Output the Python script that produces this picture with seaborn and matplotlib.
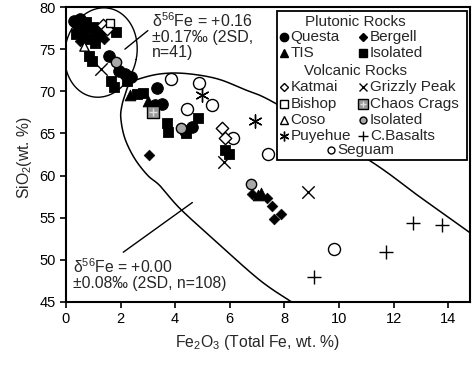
import matplotlib
matplotlib.use("Agg")
import matplotlib.pyplot as plt
import seaborn as sns
import pandas as pd
import numpy as np

# ---- data (Fe2O3 total, SiO2) ----
questa_x = [0.29, 0.51, 0.69, 1.17, 1.57, 1.94, 2.16, 2.38, 3.25, 3.51, 3.33, 4.35, 4.61]
questa_y = [78.3, 78.6, 77.4, 76.6, 74.2, 72.4, 72.0, 71.7, 68.4, 68.5, 70.4, 65.3, 65.8]
bergell_x = [0.58, 1.39, 0.51, 3.03, 6.83, 7.35, 7.53, 7.86, 7.60]
bergell_y = [77.0, 76.2, 76.0, 62.4, 57.8, 57.3, 56.4, 55.4, 54.8]
tis_x = [0.95, 2.34, 3.00, 7.02, 7.16]
tis_y = [76.8, 69.5, 68.9, 57.7, 57.9]
plut_iso_x = [0.44, 0.73, 0.99, 1.24, 0.37, 0.77, 1.06, 1.83, 0.84, 0.95, 1.64, 1.75, 2.23,
              2.60, 2.81, 3.69, 3.73, 4.39, 4.82, 5.81, 5.96]
plut_iso_y = [77.75, 78.2, 77.6, 77.2, 76.8, 76.2, 75.7, 77.0, 74.2, 73.6, 71.25, 70.5, 71.25,
              69.7, 69.8, 66.2, 65.2, 65.0, 66.8, 63.0, 62.5]
katmai_x = [1.35, 1.50, 5.70, 5.81]
katmai_y = [77.9, 77.4, 65.7, 64.5]
bishop_x = [1.60]
bishop_y = [78.1]
coso_x = [0.66]
coso_y = [75.4]
puyehue_x = [4.97, 6.94]
puyehue_y = [69.5, 66.5]
grizzly_x = [1.28, 5.77, 8.88]
grizzly_y = [72.7, 61.6, 58.0]
chaos_x = [3.18]
chaos_y = [67.5]
volc_iso_x = [1.83, 4.20, 6.76]
volc_iso_y = [73.5, 65.7, 59.0]
cbasalt_x = [12.72, 13.78, 11.70, 9.10]
cbasalt_y = [54.35, 54.1, 50.9, 48.0]
seguam_x = [3.84, 4.86, 5.34, 4.42, 6.10, 7.38, 9.83]
seguam_y = [71.5, 71.0, 68.4, 67.9, 64.5, 62.5, 51.3]

# outline of the volcanic field (control points)
field_x = [8.26, 7.09, 5.45, 4.17, 3.44, 3.00, 2.52, 2.16, 2.01, 2.05, 2.16, 2.34, 2.81,
           3.55, 4.42, 5.52, 6.47, 7.71, 11.11, 12.94, 14.80, 15.3]
field_y = [45.0, 47.6, 52.3, 56.1, 58.8, 60.0, 62.0, 64.4, 66.8, 68.3, 69.5, 70.9, 71.6,
           72.1, 72.1, 71.5, 70.3, 68.5, 61.8, 57.5, 53.2, 52.0]

sns.set_style("ticks")
plt.rcParams["font.family"] = ["Liberation Sans", "DejaVu Sans"]
plt.rcParams["mathtext.fontset"] = "custom"
plt.rcParams["mathtext.rm"] = "Liberation Sans"
plt.rcParams["mathtext.it"] = "Liberation Sans"

fig, ax = plt.subplots(figsize=(4.74, 3.70), dpi=100)
fig.subplots_adjust(left=0.139, right=0.992, bottom=0.184, top=0.981)
ax.set_xlim(0, 14.8)
ax.set_ylim(45, 80)


def pts(x, y):
    return pd.DataFrame({"x": x, "y": y})


def catmull(p, n=25):
    P = np.vstack([p[0], p, p[-1]])
    out = []
    t = np.linspace(0, 1, n)[:, None]
    for i in range(1, len(P) - 2):
        p0, p1, p2, p3 = P[i - 1], P[i], P[i + 1], P[i + 2]
        out.append(0.5 * (2 * p1 + (-p0 + p2) * t + (2 * p0 - 5 * p1 + 4 * p2 - p3) * t ** 2
                          + (-p0 + 3 * p1 - 3 * p2 + p3) * t ** 3))
    return np.vstack(out)


# field outline, smoothed in display space
disp = ax.transData.transform(np.column_stack([field_x, field_y]))
curve = ax.transData.inverted().transform(catmull(disp))
ax.plot(curve[:, 0], curve[:, 1], color="black", lw=1.1, zorder=1)

# ellipse round the plutonic cluster (display space, slight tilt)
cen = ax.transData.transform((1.28, 74.6))
tt = np.linspace(0, 2 * np.pi, 200)
a, b, ang = 36, 45, np.deg2rad(-11)
ex = a * np.cos(tt)
ey = b * np.sin(tt)
ell = np.column_stack([cen[0] + ex * np.cos(ang) - ey * np.sin(ang),
                       cen[1] + ex * np.sin(ang) + ey * np.cos(ang)])
ell = ax.transData.inverted().transform(ell)
ax.plot(ell[:, 0], ell[:, 1], color="black", lw=1.0, zorder=1)

# pointer lines
ax.plot([2.16, 3.0], [75.0, 77.2], color="black", lw=1.0, zorder=1)
ax.plot([2.1, 4.63], [50.9, 56.8], color="black", lw=1.0, zorder=1)

k = dict(x="x", y="y", ax=ax, legend=False, zorder=3)
sns.scatterplot(data=pts(plut_iso_x, plut_iso_y), marker="s", s=55, color="black", edgecolor="black", **k)
sns.scatterplot(data=pts(questa_x, questa_y), marker="o", s=70, color="black", edgecolor="black", **k)
sns.scatterplot(data=pts(tis_x, tis_y), marker="^", s=60, color="black", edgecolor="black", **k)
sns.scatterplot(data=pts(bergell_x, bergell_y), marker="D", s=30, color="black", edgecolor="black", **k)
sns.scatterplot(data=pts(seguam_x, seguam_y), marker="o", s=75, color="white", edgecolor="black", linewidth=1, **k)
sns.scatterplot(data=pts(katmai_x, katmai_y), marker="D", s=40, color="white", edgecolor="black", linewidth=1, **k)
sns.scatterplot(data=pts(bishop_x, bishop_y), marker="s", s=40, color="white", edgecolor="black", linewidth=1, **k)
sns.scatterplot(data=pts(coso_x, coso_y), marker="^", s=45, color="white", edgecolor="black", linewidth=1, **k)
sns.scatterplot(data=pts(volc_iso_x, volc_iso_y), marker="o", s=55, color="#a8a8a8", edgecolor="black", linewidth=1, **k)
sns.scatterplot(data=pts(chaos_x, chaos_y), marker="s", s=70, color="#9a9a9a", edgecolor="black", linewidth=1, **k)
sns.scatterplot(data=pts(chaos_x, chaos_y), marker="+", s=40, color="#e0e0e0", linewidth=1, **k)
sns.scatterplot(data=pts(grizzly_x, grizzly_y), marker="x", s=80, color="black", linewidth=1, **k)
sns.scatterplot(data=pts(puyehue_x, puyehue_y), marker=(6, 2, 0), s=90, color="black", linewidth=1, **k)
sns.scatterplot(data=pts(cbasalt_x, cbasalt_y), marker="+", s=90, color="black", linewidth=1, **k)

# annotations
ax.text(3.14, 79.5, "δ$^{\\mathrm{56}}$Fe = +0.16\n±0.17‰ (2SD,\nn=41)", fontsize=11.5,
        va="top", ha="left", linespacing=1.0, zorder=4)
ax.text(0.26, 50.3, "δ$^{\\mathrm{56}}$Fe = +0.00\n±0.08‰ (2SD, n=108)", fontsize=11.3,
        va="top", ha="left", linespacing=1.0, zorder=4)

# legend box (drawn by hand to get the two headed sections)
T = ax.transAxes
ax.add_patch(plt.Rectangle((0.522, 0.481), 0.471, 0.505, transform=T, facecolor="white",
                           edgecolor="black", lw=1.3, zorder=5))
lf = dict(transform=T, fontsize=11, va="center", zorder=6)
c1m, c1t, c2m, c2t = 0.540, 0.556, 0.735, 0.752
rows = [0.949, 0.898, 0.844, 0.783, 0.729, 0.671, 0.617, 0.563, 0.515]
ax.text(0.717, rows[0], "Plutonic Rocks", ha="center", **lf)
ax.text(0.717, rows[3], "Volcanic Rocks", ha="center", **lf)
entries = [
    (c1m, c1t, rows[1], "Questa", dict(marker="o", ms=6, mfc="black", mec="black")),
    (c2m, c2t, rows[1], "Bergell", dict(marker="D", ms=4, mfc="black", mec="black")),
    (c1m, c1t, rows[2], "TIS", dict(marker="^", ms=6, mfc="black", mec="black")),
    (c2m, c2t, rows[2], "Isolated", dict(marker="s", ms=5.5, mfc="black", mec="black")),
    (c1m, c1t, rows[4], "Katmai", dict(marker="D", ms=4, mfc="white", mec="black")),
    (c2m, c2t, rows[4], "Grizzly Peak", dict(marker="x", ms=6, mec="black")),
    (c1m, c1t, rows[5], "Bishop", dict(marker="s", ms=5.5, mfc="white", mec="black")),
    (c2m, c2t, rows[5], "Chaos Crags", dict(marker="s", ms=7, mfc="#9a9a9a", mec="black")),
    (c1m, c1t, rows[6], "Coso", dict(marker="^", ms=6, mfc="white", mec="black")),
    (c2m, c2t, rows[6], "Isolated", dict(marker="o", ms=5, mfc="#a8a8a8", mec="black")),
    (c1m, c1t, rows[7], "Puyehue", dict(marker=(6, 2, 0), ms=7, mec="black")),
    (c2m, c2t, rows[7], "C.Basalts", dict(marker="+", ms=7, mec="black")),
    (0.655, 0.672, rows[8], "Seguam", dict(marker="o", ms=5, mfc="white", mec="black")),
]
for mx, tx, ry, lab, mk in entries:
    ax.plot([mx], [ry], transform=T, ls="none", mew=1, zorder=6, clip_on=False, **mk)
    ax.text(tx, ry, lab, ha="left", **lf)
ax.plot([c2m], [rows[5]], transform=T, ls="none", marker="+", ms=4, mec="#e0e0e0", mew=1, zorder=7)

ax.set_xticks(np.arange(0, 15, 2))
ax.set_yticks(np.arange(45, 81, 5))
ax.tick_params(direction="out", length=4, width=1.2, labelsize=10.5, colors="black")
for sp in ax.spines.values():
    sp.set_visible(True)
    sp.set_linewidth(1.5)
    sp.set_color("black")
ax.tick_params(top=False, right=False)
ax.set_xlabel("Fe$_2$O$_3$ (Total Fe, wt. %)", fontsize=11.3)
ax.set_ylabel("SiO$_2$(wt. %)", fontsize=11.3)
ax.xaxis.set_label_coords(0.473, -0.105)
ax.yaxis.set_label_coords(-0.08, 0.49)

fig.savefig("out.png", dpi=100)
